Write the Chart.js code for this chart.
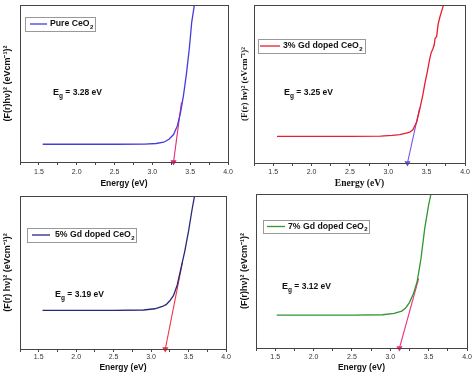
<!DOCTYPE html>
<html>
<head>
<meta charset="utf-8">
<script src="https://cdn.jsdelivr.net/npm/chart.js@4.4.0/dist/chart.umd.min.js"></script>
<style>
  body { margin:0; background:#fff; }
  .pan { position:absolute; }
</style>
</head>
<body>
<div class="pan" style="left:0;top:0;width:237px;height:190px"><canvas id="c1"></canvas></div>
<div class="pan" style="left:237px;top:0;width:237px;height:190px"><canvas id="c2"></canvas></div>
<div class="pan" style="left:0;top:185px;width:237px;height:188px"><canvas id="c3"></canvas></div>
<div class="pan" style="left:237px;top:185px;width:237px;height:188px"><canvas id="c4"></canvas></div>
<script>
// Pure CeO2
let energia1 = [1.55, 2.0, 2.5, 2.9, 3.05, 3.15, 3.22, 3.28, 3.33, 3.37, 3.41, 3.45, 3.49, 3.52, 3.555, 3.60];
let valores1 = [11.3, 11.3, 11.3, 11.4, 11.8, 12.6, 14.5, 17.5, 23, 31, 42, 56, 73, 89, 100, 115];
let tangente1 = [[3.28, 0], [3.385, 38]];

// 3% Gd
let energia2 = [1.55, 2.0, 2.5, 2.9, 3.05, 3.15, 3.22, 3.28, 3.32, 3.37, 3.41, 3.45, 3.48, 3.51, 3.54, 3.56, 3.58, 3.60, 3.61, 3.63, 3.65, 3.67, 3.70, 3.72, 3.75];
let valores2 = [16.8, 16.8, 16.8, 17.0, 17.5, 18.0, 18.8, 19.5, 21, 26, 34, 43, 51, 58, 66, 70, 72, 75, 79, 80, 88, 92, 97, 100, 106];
let tangente2 = [[3.25, 0], [3.41, 35]];

// 5% Gd
let energia3 = [1.55, 2.0, 2.5, 2.9, 3.05, 3.15, 3.2, 3.25, 3.3, 3.35, 3.4, 3.45, 3.5, 3.55, 3.58, 3.62];
let valores3 = [25.3, 25.3, 25.3, 25.5, 26.3, 27.8, 29, 31.5, 35, 42, 53, 64, 77, 92, 100, 112];
let tangente3 = [[3.19, 0], [3.42, 57]];

// 7% Gd
let energia4 = [1.52, 2.0, 2.5, 2.9, 3.05, 3.15, 3.2, 3.25, 3.3, 3.35, 3.4, 3.45, 3.5, 3.53, 3.56];
let valores4 = [21.4, 21.4, 21.4, 21.6, 22.5, 24, 26, 29.5, 35, 43, 58, 78, 93, 100, 110];
let tangente4 = [[3.12, 0], [3.37, 45]];

let etiquetas = ['Pure CeO', '3% Gd doped CeO', '5% Gd doped CeO', '7% Gd doped CeO'];
let gaps = ['3.28', '3.25', '3.19', '3.12'];
let ticksX = [1.5, 2.0, 2.5, 3.0, 3.5, 4.0];

const SANS = "'Liberation Sans', Arial, sans-serif";
const SERIF = "'Liberation Serif', 'Times New Roman', serif";

function puntos(xs, ys){
  let out = [];
  for (var i = 0; i < xs.length; i++) out.push({x: xs[i], y: ys[i]});
  return out;
}

const anotaciones = {
  id: 'anotaciones',
  afterDraw(chart, args, o){
    let ctx = chart.ctx, a = chart.chartArea;
    ctx.save();
    // marco
    ctx.strokeStyle = '#444';
    ctx.lineWidth = 1;
    ctx.strokeRect(Math.round(a.left)+0.5, Math.round(a.top)+0.5, Math.round(a.right-a.left), Math.round(a.bottom-a.top));
    // leyenda
    let L = o.leyenda;
    ctx.strokeStyle = '#999';
    ctx.strokeRect(L.x+0.5, L.y+0.5, L.w, L.h);
    ctx.strokeStyle = o.color;
    ctx.lineWidth = 1.3;
    ctx.beginPath();
    ctx.moveTo(L.lx1, L.y + L.h/2);
    ctx.lineTo(L.lx2, L.y + L.h/2);
    ctx.stroke();
    ctx.fillStyle = '#111';
    ctx.textBaseline = 'middle';
    ctx.font = 'bold 8.7px ' + SANS;
    ctx.fillText(o.texto, L.tx, L.y + L.h/2);
    let w = ctx.measureText(o.texto).width;
    ctx.font = 'bold 6px ' + SANS;
    ctx.fillText('2', L.tx + w + 0.5, L.y + L.h/2 + 3);
    // Eg
    let E = o.eg;
    ctx.font = 'bold 9px ' + SANS;
    ctx.fillText('E', E.x, E.y);
    let we = ctx.measureText('E').width;
    ctx.font = 'bold 6.5px ' + SANS;
    ctx.fillText('g', E.x + we, E.y + 3);
    let wg = ctx.measureText('g').width;
    ctx.font = 'bold 8.5px ' + SANS;
    ctx.fillText(' = ' + o.gap + ' eV', E.x + we + wg, E.y);
    ctx.restore();
  }
};

function crearGrafica(id, xs, ys, tg, color, colorTg, cfg){
  let ctx = document.getElementById(id).getContext('2d');
  return new Chart(ctx, {
    type: 'line',
    data: {
      datasets: [{
        data: puntos(xs, ys),
        borderColor: color,
        borderWidth: 1.3,
        pointRadius: 0,
        tension: 0
      }, {
        data: puntos([tg[0][0], tg[1][0]], [tg[0][1], tg[1][1]]),
        borderColor: colorTg,
        backgroundColor: colorTg,
        borderWidth: 1.1,
        pointRadius: [2.5, 0],
        pointStyle: 'triangle',
        rotation: 180,
        clip: false
      }]
    },
    options: {
      animation: false,
      responsive: true,
      maintainAspectRatio: false,
      layout: { padding: cfg.padding },
      plugins: {
        legend: { display: false },
        tooltip: { enabled: false },
        anotaciones: {
          color: color,
          texto: cfg.texto,
          gap: cfg.gap,
          leyenda: cfg.leyenda,
          eg: cfg.eg
        }
      },
      scales: {
        x: {
          type: 'linear',
          min: 1.25,
          max: 4.0,
          afterFit: function(s){ s.height = cfg.alturaX; },
          afterBuildTicks: function(s){
            let t = [];
            for (var v = 1.25; v <= 4.001; v += 0.25) t.push({value: Math.round(v*100)/100});
            s.ticks = t;
          },
          border: { display: false },
          grid: { display: true, drawOnChartArea: false, drawTicks: true, tickLength: 3, color: '#444' },
          ticks: {
            padding: cfg.padTicks,
            maxRotation: 0,
            autoSkip: false,
            color: '#333',
            font: { size: 7, family: SANS },
            callback: function(v){ return ticksX.indexOf(v) >= 0 ? v.toFixed(1) : ''; }
          },
          title: {
            display: true,
            text: 'Energy (eV)',
            color: '#111',
            padding: { top: 0, bottom: cfg.padTitulo },
            font: { size: cfg.serif ? 9.5 : 8.5, weight: 'bold', family: cfg.serif ? SERIF : SANS }
          }
        },
        y: {
          min: 0,
          max: 100,
          afterFit: function(s){ s.width = cfg.anchoY; },
          border: { display: false },
          grid: { display: false },
          ticks: { display: false },
          title: {
            display: true,
            text: cfg.tituloY,
            color: '#111',
            padding: { top: 2, bottom: 0 },
            font: { size: 9, weight: 'bold', family: cfg.serif ? SERIF : SANS }
          }
        }
      }
    },
    plugins: [anotaciones]
  });
}

crearGrafica('c1', energia1, valores1, tangente1, 'rgb(70,60,220)', 'rgb(230,40,120)', {
  padding: { left: 0, right: 9, top: 3, bottom: 0 }, anchoY: 20, alturaX: 28, padTicks: 3, padTitulo: 1,
  texto: etiquetas[0], gap: gaps[0], tituloY: '(F(r)h\u03bd)\u00b2 (eVcm\u207b\u00b9)\u00b2',
  leyenda: { x: 25, y: 17, w: 70, h: 14, lx1: 30, lx2: 47, tx: 50 },
  eg: { x: 53, y: 93 }
});
crearGrafica('c2', energia2, valores2, tangente2, 'rgb(230,30,45)', 'rgb(120,80,230)', {
  padding: { left: 0, right: 9, top: 2, bottom: 0 }, anchoY: 17, alturaX: 27, padTicks: 2, padTitulo: 1, serif: true,
  texto: etiquetas[1], gap: gaps[1], tituloY: '(F(r) h\u03bd)\u00b2 (eVcm\u207b\u00b9)\u00b2',
  leyenda: { x: 21, y: 39, w: 107, h: 14, lx1: 23, lx2: 43, tx: 46 },
  eg: { x: 47, y: 93 }
});
crearGrafica('c3', energia3, valores3, tangente3, 'rgb(40,40,120)', 'rgb(240,50,70)', {
  padding: { left: 0, right: 11, top: 11, bottom: 0 }, anchoY: 20, alturaX: 24, padTicks: 1, padTitulo: 0,
  texto: etiquetas[2], gap: gaps[2], tituloY: '(F(r) h\u03bd)\u00b2 (eVcm\u207b\u00b9)\u00b2',
  leyenda: { x: 27, y: 43, w: 109, h: 14, lx1: 32, lx2: 50, tx: 55 },
  eg: { x: 55, y: 110 }
});
crearGrafica('c4', energia4, valores4, tangente4, 'rgb(50,150,50)', 'rgb(240,50,130)', {
  padding: { left: 0, right: 7, top: 9, bottom: 0 }, anchoY: 19, alturaX: 25, padTicks: 2, padTitulo: 0,
  texto: etiquetas[3], gap: gaps[3], tituloY: '(F(r)h\u03bd)\u00b2 (eVcm\u207b\u00b9)\u00b2',
  leyenda: { x: 26, y: 35, w: 106, h: 13, lx1: 30, lx2: 48, tx: 51 },
  eg: { x: 45, y: 102 }
});
</script>
</body>
</html>
